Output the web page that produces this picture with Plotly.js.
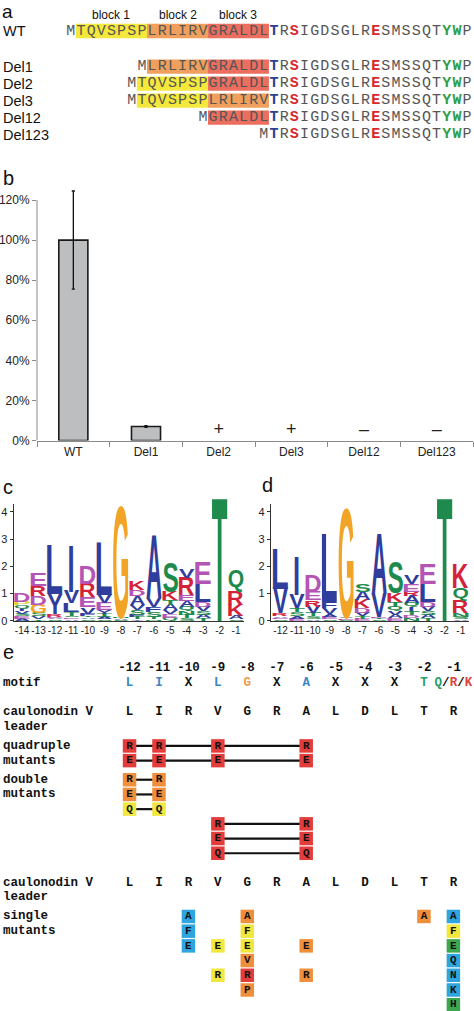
<!DOCTYPE html>
<html>
<head>
<meta charset="utf-8">
<script src="https://cdn.plot.ly/plotly-3.0.1.min.js"></script>
<style>
  html, body { margin: 0; padding: 0; background: #fff; }
  #fig { width: 474px; height: 1011px; }
</style>
</head>
<body>
<div id="fig"></div>
<script>
// ---------------- page geometry helpers ----------------
const W = 474, H = 1011;
const fx = px => px / W;          // horizontal pixel -> paper fraction
const fy = px => 1 - px / H;      // vertical pixel -> paper fraction
const SANS = '"Liberation Sans", Arial, sans-serif';
const MONO = '"Liberation Mono", "DejaVu Sans Mono", monospace';

// ---------------- panel a: leader peptide constructs ----------------
const seqLabels = ['WT', 'Del1', 'Del2', 'Del3', 'Del12', 'Del123'];
const seqRows = [0, 2.1, 3.1, 4.1, 5.1, 6.1];
const blockLabels = ['block 1', 'block 2', 'block 3'];
const blockSeqs = ['TQVSPSP', 'LRLIRV', 'GRALDL'];
const seqBlocks = [[0, 1, 2], [1, 2], [0, 2], [0, 1], [2], []];
const startResidue = 'M';
const tailSeq = 'TRSIGDSGLRESMSSQTYWP';
const tailMarks = [0, 2, 10, 17, 18];
const tailMarkColors = ['#2d3f94', '#d8262c', '#d8262c', '#2f9e46', '#2f9e46'];
const blockColors = ['#f5e83c', '#f0a05c', '#ec6e5f'];

// ---------------- panel b: relative activity ----------------
const barCats = ['WT', 'Del1', 'Del2', 'Del3', 'Del12', 'Del123'];
const barValues = [1.00, 0.07, null, null, null, null];
const barErrors = [0.245, 0.004, null, null, null, null];
const barSigns = ['', '', '+', '+', '–', '–'];
const signLevel = 0.052;
const pctTicks = [0, 0.2, 0.4, 0.6, 0.8, 1.0, 1.2];

// ---------------- panels c, d: sequence logos (bits, bottom -> top) ----------------
const logoColors = {
  L: '#2f3d9c', I: '#2f3d9c', V: '#2f3d9c', A: '#2f3d9c', Y: '#2f3d9c', F: '#2f3d9c', M: '#2f3d9c', W: '#2f3d9c',
  G: '#f2a427', D: '#b455b6', E: '#b455b6', R: '#d3223a', K: '#d3223a', H: '#d3223a',
  S: '#1e8a4b', T: '#1e8a4b', Q: '#1e8a4b', N: '#1e8a4b', P: '#e3d22c', C: '#e3d22c'
};
const logoCPos = [-14, -13, -12, -11, -10, -9, -8, -7, -6, -5, -4, -3, -2, -1];
const logoCStacks = [
  [['A', 0.08], ['E', 0.08], ['S', 0.10], ['V', 0.10], ['I', 0.10], ['Q', 0.10], ['P', 0.12], ['D', 0.31]],
  [['T', 0.06], ['V', 0.10], ['S', 0.12], ['G', 0.30], ['D', 0.31], ['R', 0.37], ['E', 0.43]],
  [['S', 0.05], ['A', 0.05], ['E', 0.05], ['R', 0.10], ['Y', 0.74], ['L', 1.72]],
  [['A', 0.06], ['E', 0.06], ['S', 0.06], ['T', 0.13], ['L', 0.33], ['V', 0.43], ['I', 1.63]],
  [['S', 0.06], ['A', 0.06], ['T', 0.06], ['F', 0.08], ['V', 0.24], ['E', 0.37], ['R', 0.49], ['D', 0.62]],
  [['S', 0.06], ['A', 0.07], ['Q', 0.06], ['T', 0.07], ['Y', 0.13], ['E', 0.25], ['V', 0.31], ['L', 1.84]],
  [['S', 0.04], ['A', 0.05], ['N', 0.06], ['G', 3.93]],
  [['Y', 0.05], ['T', 0.08], ['F', 0.08], ['S', 0.18], ['V', 0.19], ['A', 0.31], ['D', 0.24], ['K', 0.33]],
  [['N', 0.05], ['T', 0.10], ['S', 0.18], ['F', 0.19], ['V', 0.30], ['A', 2.22]],
  [['Q', 0.10], ['E', 0.14], ['V', 0.14], ['A', 0.20], ['T', 0.18], ['K', 0.31], ['S', 1.05]],
  [['S', 0.10], ['T', 0.12], ['N', 0.14], ['Q', 0.16], ['A', 0.21], ['E', 0.22], ['R', 0.61], ['V', 0.31]],
  [['T', 0.10], ['A', 0.12], ['S', 0.14], ['V', 0.16], ['D', 0.18], ['L', 0.64], ['E', 0.78]],
  [['T', 4.33]],
  [['S', 0.06], ['A', 0.12], ['K', 0.40], ['R', 0.49], ['Q', 0.74]]
];
const logoDPos = [-12, -11, -10, -9, -8, -7, -6, -5, -4, -3, -2, -1];
const logoDStacks = [
  [['S', 0.05], ['E', 0.06], ['A', 0.06], ['R', 0.10], ['V', 0.89], ['L', 1.41]],
  [['E', 0.08], ['A', 0.10], ['S', 0.13], ['T', 0.15], ['V', 0.49], ['I', 1.35]],
  [['A', 0.06], ['S', 0.10], ['T', 0.11], ['V', 0.25], ['R', 0.24], ['E', 0.31], ['D', 0.58]],
  [['S', 0.05], ['E', 0.08], ['A', 0.10], ['V', 0.23], ['F', 0.24], ['L', 2.40]],
  [['S', 0.04], ['E', 0.05], ['A', 0.06], ['G', 3.81]],
  [['E', 0.08], ['T', 0.10], ['V', 0.12], ['D', 0.16], ['K', 0.30], ['A', 0.30], ['S', 0.26]],
  [['S', 0.05], ['T', 0.05], ['E', 0.05], ['V', 0.85], ['A', 2.10]],
  [['E', 0.10], ['A', 0.12], ['V', 0.14], ['Q', 0.16], ['T', 0.18], ['K', 0.30], ['S', 1.10]],
  [['N', 0.10], ['D', 0.10], ['T', 0.14], ['I', 0.15], ['Q', 0.15], ['A', 0.25], ['R', 0.18], ['E', 0.27], ['V', 0.31]],
  [['T', 0.10], ['A', 0.12], ['S', 0.14], ['V', 0.16], ['D', 0.18], ['L', 0.64], ['E', 0.74]],
  [['T', 4.30]],
  [['A', 0.05], ['S', 0.10], ['N', 0.12], ['R', 0.46], ['Q', 0.46], ['K', 0.87]]
];
// glyph width as a share of the column (narrow letters keep a narrow stem)
const glyphWidth = { I: 0.26 };

// ---------------- panel e: motif and mutants ----------------
const ePos = [-12, -11, -10, -9, -8, -7, -6, -5, -4, -3, -2, -1];
const motifSeq = ['L', 'I', 'X', 'L', 'G', 'X', 'A', 'X', 'X', 'X', 'T', 'Q/R/K'];
const leaderSeq = ['L', 'I', 'R', 'V', 'G', 'R', 'A', 'L', 'D', 'L', 'T', 'R'];
const quadSites = [-12, -11, -9, -6];
const quadSubs = ['R', 'E'];
const quadClasses = ['red', 'red'];
const dblSitesA = [-12, -11];
const dblSubsA = ['R', 'E', 'Q'];
const dblClassesA = ['orange', 'orange', 'yellow'];
const dblSitesB = [-9, -6];
const dblSubsB = ['R', 'E', 'Q'];
const dblClassesB = ['red', 'red', 'red'];
const singlePos = [-10, -10, -10, -9, -9, -8, -8, -8, -8, -8, -8, -6, -6, -2, -1, -1, -1, -1, -1, -1, -1];
const singleSub = ['A', 'F', 'E', 'E', 'R', 'A', 'F', 'E', 'V', 'R', 'P', 'E', 'R', 'A', 'A', 'F', 'E', 'Q', 'N', 'K', 'H'];
const singleRow = [0, 1, 2, 2, 4, 0, 1, 2, 3, 4, 5, 2, 4, 0, 0, 1, 2, 3, 4, 5, 6];
const singleClass = ['blue', 'blue', 'blue', 'yellow', 'yellow', 'orange', 'yellow', 'yellow', 'orange', 'red', 'orange',
                     'orange', 'orange', 'orange', 'blue', 'yellow', 'green', 'blue', 'blue', 'blue', 'green'];
const boxColors = { red: '#e23c3b', orange: '#ef8f3c', yellow: '#f2e73e', blue: '#2ea5df', green: '#3da74f' };

// vertical line positions of panel e (in text lines)
const eLine = { header: 0, motif: 1, leader1: 3, leader1b: 4, leader2: 14.6, leader2b: 15.6, singleStart: 16.9 };
const quadRows = [5.3, 6.3];
const dblRowsA = [7.6, 8.6, 9.6];
const dblRowsB = [10.6, 11.6, 12.6];

// =====================================================================
const traces = [];
const shapes = [];
const annotations = [];

// ---- panel b ----
traces.push({
  type: 'bar', x: barCats, y: barValues, width: 0.4, xaxis: 'x', yaxis: 'y',
  marker: { color: '#bcbec0', line: { color: '#1a1a1a', width: 1.6 } }
});
const errIdx = barErrors.map((e, i) => e == null ? -1 : i).filter(i => i >= 0);
traces.push({
  type: 'scatter', mode: 'markers', xaxis: 'x', yaxis: 'y', cliponaxis: false,
  x: errIdx.map(i => barCats[i]), y: errIdx.map(i => barValues[i]),
  marker: { size: 1, opacity: 0 },
  error_y: { type: 'data', array: errIdx.map(i => barErrors[i]), visible: true, color: '#111', thickness: 1.3, width: 1.6 }
});
const signIdx = barSigns.map((s, i) => s ? i : -1).filter(i => i >= 0);
traces.push({
  type: 'scatter', mode: 'text', xaxis: 'x', yaxis: 'y', cliponaxis: false,
  x: signIdx.map(i => barCats[i]), y: signIdx.map(() => signLevel), text: signIdx.map(i => barSigns[i]),
  textfont: { family: SANS, size: 18, color: '#222' }
});

// ---- panels c, d: logos ----
const logoSpecs = {};
function buildLogo(name, positions, stacks, xa, ya) {
  const x = [], y = [], text = [], color = [], boxes = {};
  positions.forEach((p, k) => {
    let base = 0;
    stacks[k].forEach(([letter, h]) => {
      const yc = base + h / 2;
      x.push(p); y.push(yc); text.push('<b>' + letter + '</b>'); color.push(logoColors[letter]);
      boxes[p + '|' + yc] = { letter, x: p, y0: base, y1: base + h, w: glyphWidth[letter] || 0.94 };
      base += h;
    });
  });
  logoSpecs[name] = { xaxis: xa, yaxis: ya, boxes };
  return {
    type: 'scatter', mode: 'text', name, x, y, text, cliponaxis: false,
    xaxis: xa.replace('axis', ''), yaxis: ya.replace('axis', ''),
    textfont: { family: '"Liberation Sans"', size: 30, color }
  };
}
traces.push(buildLogo('logoC', logoCPos, logoCStacks, 'xaxis2', 'yaxis2'));
traces.push(buildLogo('logoD', logoDPos, logoDStacks, 'xaxis3', 'yaxis3'));

// ---- panel a: aligned sequences with highlighted blocks ----
{
  const rowsChars = seqBlocks.map(bl => startResidue + bl.map(b => blockSeqs[b]).join('') + tailSeq);
  const fullLen = rowsChars[0].length;
  const x = [], y = [], text = [], color = [];
  rowsChars.forEach((s, r) => {
    const start = fullLen - s.length;
    const tailStart = s.length - tailSeq.length;
    for (let i = 0; i < s.length; i++) {
      const ti = i - tailStart;
      const m = ti >= 0 ? tailMarks.indexOf(ti) : -1;
      x.push(start + i); y.push(seqRows[r]);
      text.push(m >= 0 ? '<b>' + s[i] + '</b>' : s[i]);
      color.push(m >= 0 ? tailMarkColors[m] : '#555');
    }
    // block highlights
    let pos = start + startResidue.length;
    seqBlocks[r].forEach(b => {
      shapes.push({
        type: 'rect', xref: 'x4', yref: 'y4', layer: 'below', line: { width: 0 }, fillcolor: blockColors[b],
        x0: pos - 0.5, x1: pos + blockSeqs[b].length - 0.5, y0: seqRows[r] - 0.42, y1: seqRows[r] + 0.42
      });
      if (r === 0) {
        annotations.push({
          xref: 'x4', yref: 'y4', x: pos + (blockSeqs[b].length - 1) / 2, y: -0.95, text: blockLabels[b],
          showarrow: false, font: { family: SANS, size: 12, color: '#111' }
        });
      }
      pos += blockSeqs[b].length;
    });
    annotations.push({
      xref: 'paper', yref: 'y4', x: fx(1), y: seqRows[r], xanchor: 'left', text: seqLabels[r],
      showarrow: false, font: { family: SANS, size: 14.5, color: '#111' }
    });
  });
  traces.push({
    type: 'scatter', mode: 'text', xaxis: 'x4', yaxis: 'y4', x, y, text, cliponaxis: false,
    textfont: { family: MONO, size: 15, color }
  });
}

// ---- panel e: motif table ----
{
  const x = [], y = [], text = [], color = [];
  ePos.forEach((p, k) => {
    x.push(p); y.push(eLine.header); text.push('<b>' + p + '</b>'); color.push('#111');
    x.push(p); y.push(eLine.motif); color.push('#111');
    if (motifSeq[k] === 'Q/R/K') {
      text.push('<b><span style="color:#23a06a">Q</span>/<span style="color:#e0403c">R</span>/<span style="color:#e0403c">K</span></b>');
    } else {
      text.push('<b>' + motifSeq[k] + '</b>');
      color[color.length - 1] = motifSeq[k] === 'X' ? '#111' : (motifSeq[k] === 'G' ? '#ee9a4f' : (motifSeq[k] === 'T' ? '#23a06a' : '#3a86c6'));
    }
    [eLine.leader1, eLine.leader2].forEach(ly => {
      x.push(p); y.push(ly); text.push('<b>' + leaderSeq[k] + '</b>'); color.push('#111');
    });
  });
  traces.push({
    type: 'scatter', mode: 'text', xaxis: 'x5', yaxis: 'y5', x, y, text, cliponaxis: false,
    textfont: { family: MONO, size: 12.5, color }
  });

  // connecting lines for the combination mutants
  const lineRows = [];
  quadRows.forEach(r => lineRows.push([quadSites, r]));
  dblRowsA.forEach(r => lineRows.push([dblSitesA, r]));
  dblRowsB.forEach(r => lineRows.push([dblSitesB, r]));
  lineRows.forEach(([sites, r]) => traces.push({
    type: 'scatter', mode: 'lines', xaxis: 'x5', yaxis: 'y5',
    x: [sites[0], sites[sites.length - 1]], y: [r, r], line: { color: '#111', width: 2.2 }
  }));

  // boxes
  const bx = [], by = [], bt = [], bc = [];
  const addGroup = (sites, subs, classes, rows) => subs.forEach((s, j) => sites.forEach(p => {
    bx.push(p); by.push(rows[j]); bt.push('<b>' + s + '</b>'); bc.push(boxColors[classes[j]]);
  }));
  addGroup(quadSites, quadSubs, quadClasses, quadRows);
  addGroup(dblSitesA, dblSubsA, dblClassesA, dblRowsA);
  addGroup(dblSitesB, dblSubsB, dblClassesB, dblRowsB);
  singlePos.forEach((p, i) => {
    bx.push(p); by.push(eLine.singleStart + singleRow[i]); bt.push('<b>' + singleSub[i] + '</b>'); bc.push(boxColors[singleClass[i]]);
  });
  traces.push({
    type: 'scatter', mode: 'markers+text', xaxis: 'x5', yaxis: 'y5', x: bx, y: by, text: bt, cliponaxis: false,
    textposition: 'middle center',
    marker: { symbol: 'square', size: 13.5, color: bc, line: { width: 0 } },
    textfont: { family: MONO, size: 11, color: '#111' }
  });

  const eLabels = [
    ['motif', eLine.motif], ['caulonodin V', eLine.leader1], ['leader', eLine.leader1b],
    ['quadruple', quadRows[0]], ['mutants', quadRows[1]], ['double', dblRowsA[0]], ['mutants', dblRowsA[1]],
    ['caulonodin V', eLine.leader2], ['leader', eLine.leader2b],
    ['single', eLine.singleStart], ['mutants', eLine.singleStart + 1]
  ];
  eLabels.forEach(([t, r]) => annotations.push({
    xref: 'paper', yref: 'y5', x: fx(1), y: r, xanchor: 'left', text: '<b>' + t + '</b>',
    showarrow: false, font: { family: MONO, size: 12.5, color: '#111' }
  }));
}

// panel letters
annotations.push({
  xref: 'paper', yref: 'paper', x: fx(1), y: 1, xanchor: 'left', yanchor: 'top', text: 'a', borderpad: 0,
  showarrow: false, font: { family: SANS, size: 19, color: '#111' }
});
[['b', 1, 177.5], ['c', 1, 487], ['d', 260, 485], ['e', 1, 652]].forEach(([t, px, py]) =>
  annotations.push({
    xref: 'paper', yref: 'paper', x: fx(px), y: fy(py), xanchor: 'left', yanchor: 'middle', text: t,
    showarrow: false, font: { family: SANS, size: 20, color: '#111' }
  }));

const axisGrey = '#8a8a8a';
// y axis line of the bar chart ends at the top tick
shapes.push({
  type: 'line', xref: 'paper', yref: 'y', x0: fx(37), x1: fx(37), y0: 0, y1: pctTicks[pctTicks.length - 1],
  line: { color: axisGrey, width: 1 }
});

const hidden = { visible: false, showgrid: false, zeroline: false, fixedrange: true };
const logoXAxis = {
  ticks: '', tickangle: 0, showline: true, linecolor: '#333', linewidth: 1, showgrid: false, zeroline: false,
  tickfont: { family: SANS, size: 10, color: '#222' }
};
const logoYAxis = {
  range: [0, 4.3], tickvals: [0, 1, 2, 3, 4], ticks: 'outside', ticklen: 3, tickcolor: '#333',
  showline: true, linecolor: '#333', linewidth: 1, showgrid: false, zeroline: false,
  tickfont: { family: SANS, size: 11, color: '#222' }
};
const layout = {
  width: W, height: H, margin: { l: 0, r: 0, t: 0, b: 0 },
  paper_bgcolor: '#fff', plot_bgcolor: 'rgba(0,0,0,0)', showlegend: false, hovermode: false,
  font: { family: SANS, color: '#222' },
  xaxis: {
    domain: [fx(37), fx(473)], type: 'category', anchor: 'y', showline: true, linecolor: axisGrey, linewidth: 1,
    ticks: 'outside', tickson: 'boundaries', ticklen: 5, tickcolor: axisGrey, showgrid: false, zeroline: false,
    tickangle: 0, tickfont: { family: SANS, size: 12, color: '#222' }
  },
  yaxis: {
    domain: [fy(440.5), fy(440.5 - 1.27 * 200.4)], range: [0, 1.27], anchor: 'x', tickvals: pctTicks, tickformat: '.0%',
    showline: false, ticks: 'outside', ticklen: 4, tickcolor: axisGrey,
    showgrid: false, zeroline: false, tickfont: { family: SANS, size: 12, color: '#222' }
  },
  xaxis2: Object.assign({
    domain: [fx(13.5), fx(244.3)], range: [-14.52, -0.5], anchor: 'y2',
    tickvals: logoCPos, ticktext: logoCPos.map(String)
  }, logoXAxis),
  yaxis2: Object.assign({ domain: [fy(620.7), fy(503.7)], anchor: 'x2' }, logoYAxis),
  xaxis3: Object.assign({
    domain: [fx(270.7), fx(469)], range: [-12.6, -0.5], anchor: 'y3',
    tickvals: logoDPos, ticktext: logoDPos.map(String)
  }, logoXAxis),
  yaxis3: Object.assign({ domain: [fy(620.7), fy(503.7)], anchor: 'x3' }, logoYAxis),
  xaxis4: Object.assign({ domain: [0, 1], range: [-6.97, 39.68], anchor: 'y4' }, hidden),
  yaxis4: Object.assign({ domain: [fy(150), 1], range: [7, -1.8235], anchor: 'x4' }, hidden),
  xaxis5: Object.assign({ domain: [0, 1], range: [-16.4, -0.3], anchor: 'y5' }, hidden),
  yaxis5: Object.assign({ domain: [0, fy(655)], range: [23.33, -0.884], anchor: 'x5' }, hidden),
  shapes, annotations
};

// Stretch each logo glyph so its ink fills the box [x ± w/2] x [y0, y1] of its axes.
function stretchLogos(gd) {
  const ctx = document.createElement('canvas').getContext('2d');
  ctx.textAlign = 'center';
  ctx.textBaseline = 'alphabetic';
  gd.querySelectorAll('g.trace.scatter').forEach(tg => {
    const cd = tg.__data__;
    if (!cd || !cd[0] || !cd[0].trace) return;
    const spec = logoSpecs[cd[0].trace.name];
    if (!spec) return;
    const xa = gd._fullLayout[spec.xaxis], ya = gd._fullLayout[spec.yaxis];
    tg.querySelectorAll('g.textpoint').forEach(g => {
      const d = g.__data__, t = g.querySelector('text');
      if (!d || !t) return;
      const box = spec.boxes[d.x + '|' + d.y];
      if (!box) return;
      let gdx = 0, gdy = 0;
      const tf = g.transform && g.transform.baseVal.consolidate();
      if (tf) { gdx = tf.matrix.e; gdy = tf.matrix.f; }
      const fs = parseFloat(t.style.fontSize) || 30;
      ctx.font = 'bold ' + fs + 'px "Liberation Sans"';
      const m = ctx.measureText(box.letter);
      const L = m.actualBoundingBoxLeft, R = m.actualBoundingBoxRight;
      const A = m.actualBoundingBoxAscent, D = m.actualBoundingBoxDescent;
      const tx = +t.getAttribute('x'), ty = +t.getAttribute('y');
      const X0 = xa.l2p(box.x - box.w / 2) - gdx, X1 = xa.l2p(box.x + box.w / 2) - gdx;
      const Yt = ya.l2p(box.y1) - gdy, Yb = ya.l2p(box.y0) - gdy;
      const sx = (X1 - X0) / (L + R), sy = (Yb - Yt) / (A + D);
      const ex = X0 - sx * (tx - L), ey = Yt - sy * (ty - A);
      t.setAttribute('transform', 'matrix(' + sx + ',0,0,' + sy + ',' + ex + ',' + ey + ')');
    });
  });
}

Plotly.newPlot('fig', traces, layout, { staticPlot: true }).then(gd => {
  stretchLogos(gd);
  gd.on('plotly_afterplot', () => stretchLogos(gd));
});
</script>
</body>
</html>
